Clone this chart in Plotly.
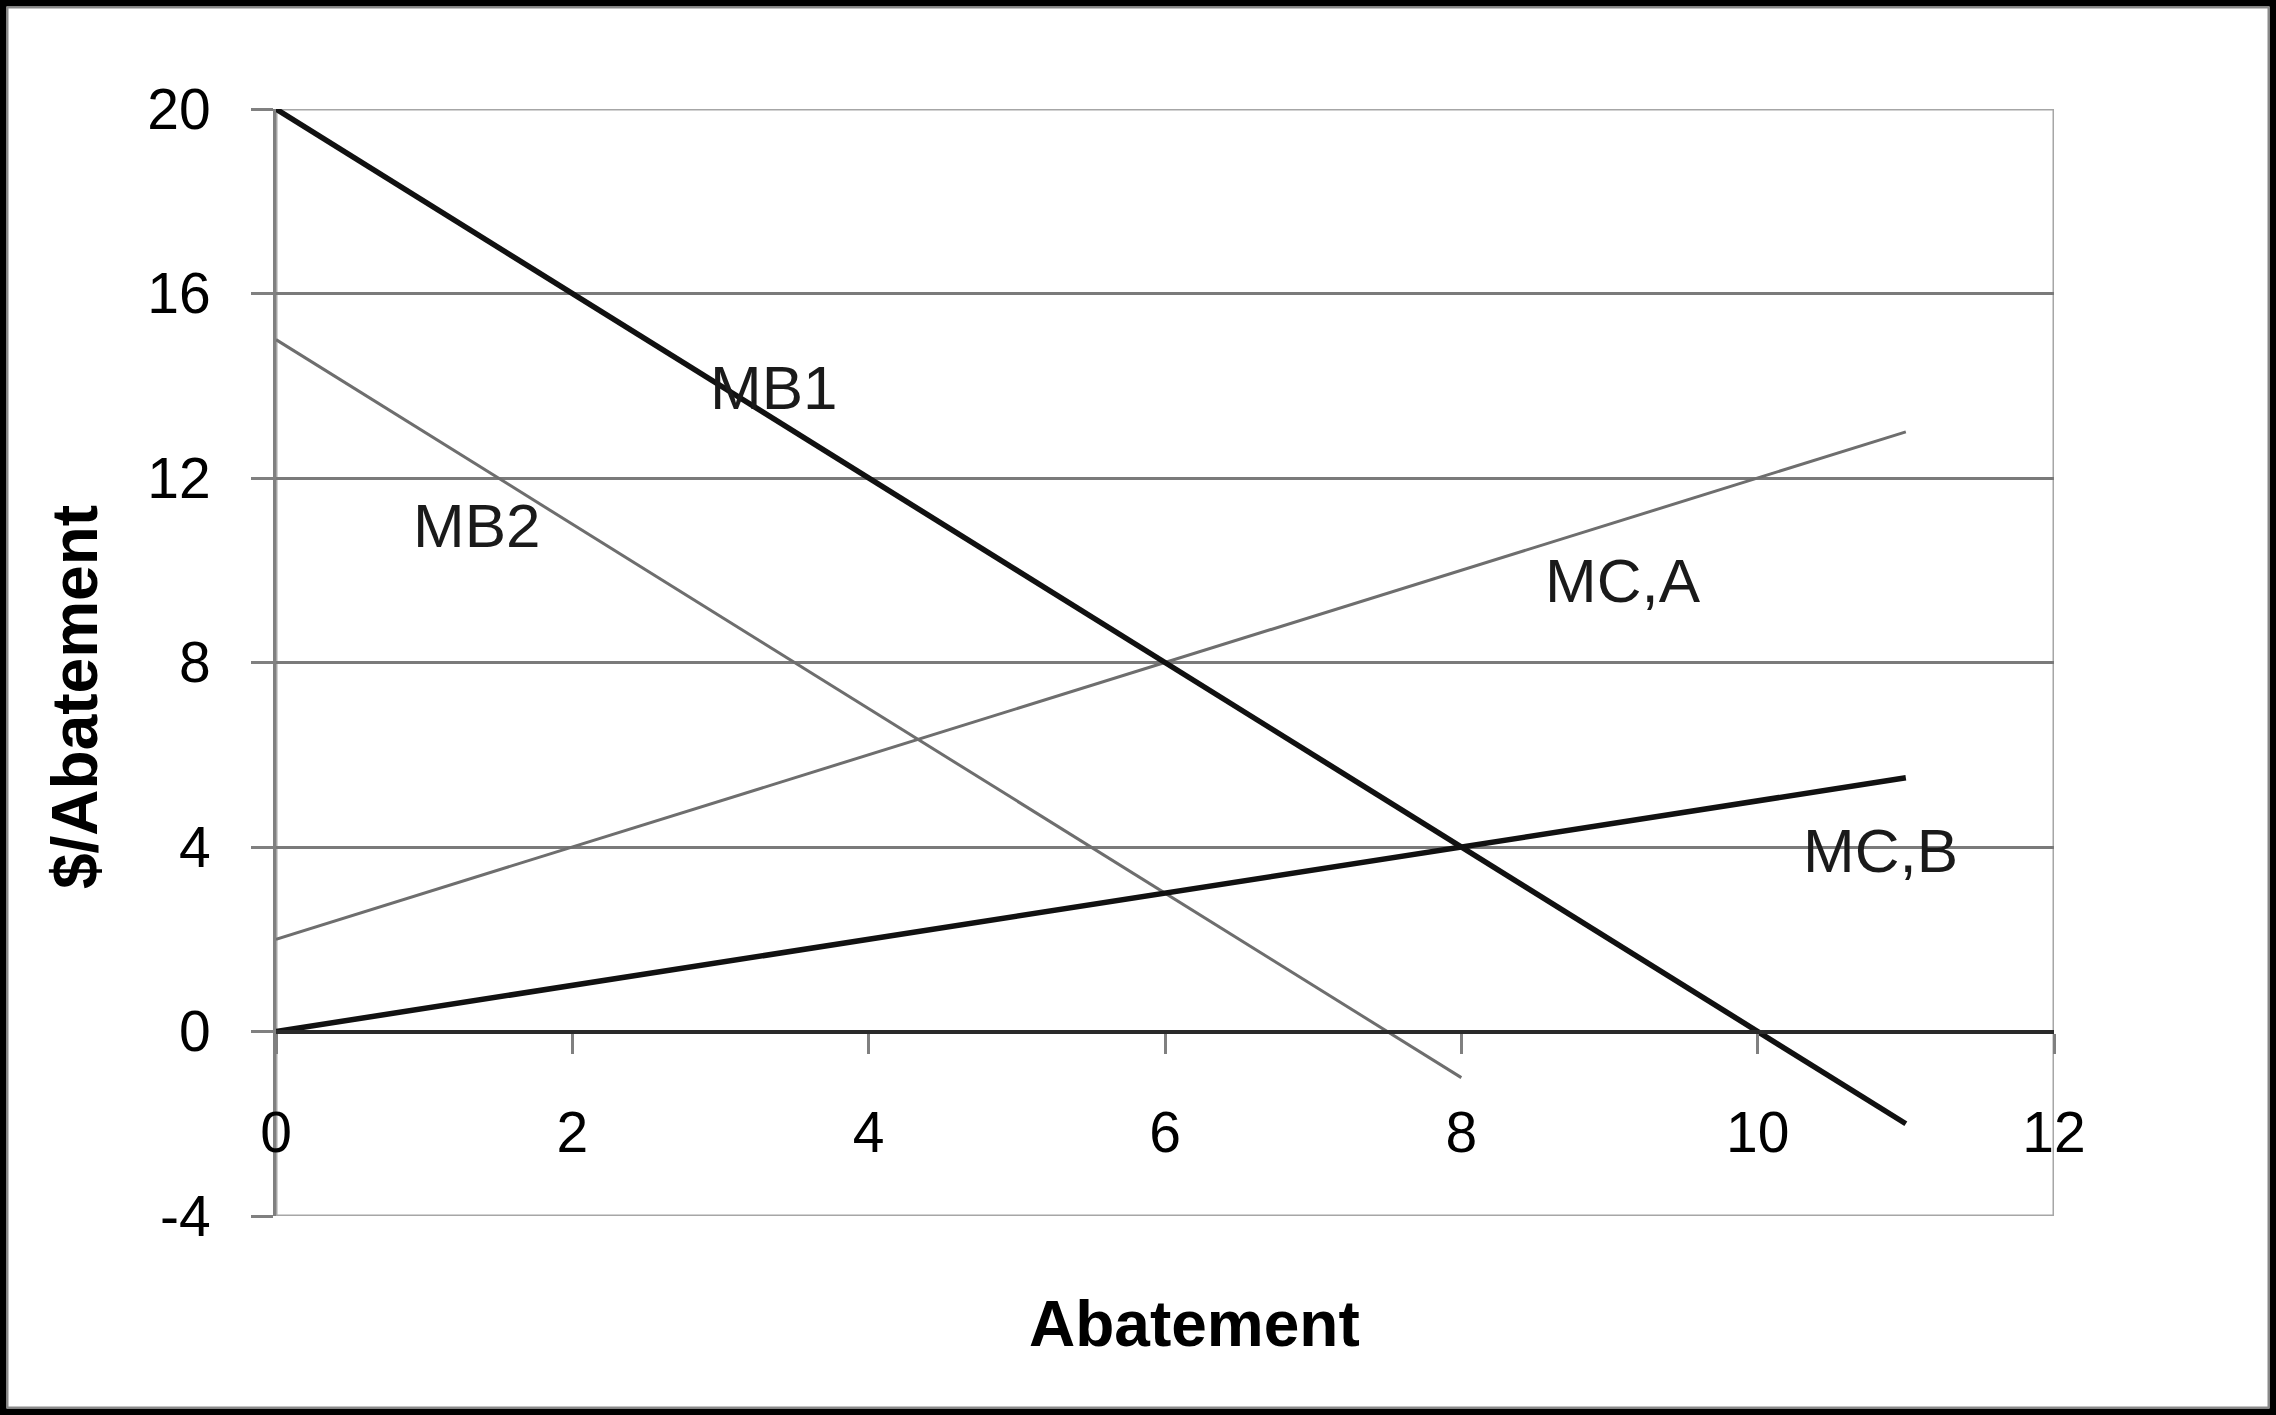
import plotly.graph_objects as go

# ---- data ----
mb1_x = [0, 2, 4, 6, 8, 10, 11]
mb1_y = [20, 16, 12, 8, 4, 0, -2]
mb2_x = [0, 2, 4, 6, 7.5, 8]
mb2_y = [15, 11, 7, 3, 0, -1]
mca_x = [0, 2, 4, 6, 8, 10, 11]
mca_y = [2, 4, 6, 8, 10, 12, 13]
mcb_x = [0, 2, 4, 6, 8, 10, 11]
mcb_y = [0, 1, 2, 3, 4, 5, 5.5]

x_ticks = [0, 2, 4, 6, 8, 10, 12]
y_ticks = [-4, 0, 4, 8, 12, 16, 20]

labels = ["MB1", "MB2", "MC,A", "MC,B"]
label_x = [3.36, 1.35, 9.09, 10.83]
label_y = [13.97, 10.98, 9.78, 3.93]

W, H = 2276, 1415
L, R, T, B = 276, 222, 109, 199
PW, PH = W - L - R, H - T - B

FONT = "Liberation Sans, Arial, sans-serif"

fig = go.Figure()
fig.add_trace(go.Scatter(x=mca_x, y=mca_y, mode="lines", line=dict(color="#6e6e6e", width=3)))
fig.add_trace(go.Scatter(x=mb2_x, y=mb2_y, mode="lines", line=dict(color="#6e6e6e", width=3)))
fig.add_trace(go.Scatter(x=mcb_x, y=mcb_y, mode="lines", line=dict(color="#111111", width=5.5)))
fig.add_trace(go.Scatter(x=mb1_x, y=mb1_y, mode="lines", line=dict(color="#111111", width=5.5)))

for t, x, y in zip(labels, label_x, label_y):
    fig.add_annotation(x=x, y=y, text=t, showarrow=False, xanchor="center", yanchor="middle",
                       font=dict(family=FONT, size=62, color="#1a1a1a"))

# axis titles
fig.add_annotation(xref="paper", yref="paper", x=(1194.6 - L) / PW, y=(H - B - 1323.8) / PH,
                   text="<b>Abatement</b>", showarrow=False, xanchor="center", yanchor="middle",
                   font=dict(family=FONT, size=64, color="#000"))
fig.add_annotation(xref="paper", yref="paper", x=(75 - L) / PW, y=(H - B - 697) / PH,
                   text="<b>$/Abatement</b>", showarrow=False, textangle=-90,
                   xanchor="center", yanchor="middle",
                   font=dict(family=FONT, size=64, color="#000"))

# plot border (right / bottom)
fig.add_shape(type="rect", xref="x", yref="y", x0=0, x1=12, y0=-4, y1=20,
              line=dict(color="#a6a6a6", width=3), layer="below")
# outer frame
fig.add_shape(type="rect", xref="paper", yref="paper",
              x0=-L / PW, x1=1 + R / PW, y0=-B / PH, y1=1 + T / PH,
              line=dict(color="#000", width=13))
fig.add_shape(type="rect", xref="paper", yref="paper",
              x0=-(L - 7.5) / PW, x1=1 + (R - 7.5) / PW, y0=-(B - 7.5) / PH, y1=1 + (T - 7.5) / PH,
              line=dict(color="#8a8a8a", width=2))

fig.update_layout(
    width=W, height=H,
    margin=dict(l=L, r=R, t=T, b=B, pad=0),
    paper_bgcolor="white", plot_bgcolor="white",
    showlegend=False,
    font=dict(family=FONT, color="#000"),
    xaxis=dict(range=[0, 12], tickvals=x_ticks, ticktext=[str(v) for v in x_ticks],
               showgrid=False, zeroline=False,
               anchor="free", position=4 / 24,
               showline=True, linecolor="#2a2a2a", linewidth=4,
               ticks="outside", ticklen=20, tickwidth=3, tickcolor="#808080",
               tickfont=dict(family=FONT, size=57, color="#000"),
               ticklabelstandoff=30),
    yaxis=dict(range=[-4, 20], tickvals=y_ticks, ticktext=[str(v) for v in y_ticks],
               showgrid=True, gridcolor="#7a7a7a", gridwidth=3, zeroline=False,
               showline=True, linecolor="#808080", linewidth=3,
               ticks="outside", ticklen=22, tickwidth=3, tickcolor="#808080",
               tickfont=dict(family=FONT, size=57, color="#000"),
               ticklabelstandoff=29),
)

fig.write_html("out.html", config={"displayModeBar": False},
               post_script="document.body.style.margin='0';document.body.style.overflow='hidden';")
